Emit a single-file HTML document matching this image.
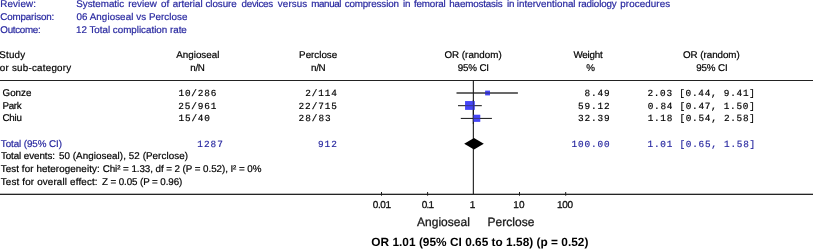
<!DOCTYPE html>
<html lang="en"><head><meta charset="utf-8"><title>Forest plot: Angioseal vs Perclose</title>
<style>
html,body{margin:0;padding:0;background:#fff;}
body{width:813px;height:249px;position:relative;overflow:hidden;font-family:"Liberation Sans",sans-serif;color:#000;text-rendering:geometricPrecision;}
.t{position:absolute;white-space:pre;font-size:9.8px;line-height:12px;height:12px;-webkit-text-stroke:0.2px currentColor;}
.b{color:#2828a0;}
.m{font-family:"Liberation Mono",monospace;font-size:9.4px;-webkit-text-stroke:0.18px currentColor;}
.x{font-size:10px;-webkit-text-stroke:0.3px currentColor;color:#111;}
.l{font-size:12px;line-height:14px;height:14px;-webkit-text-stroke:0.3px currentColor;color:#1a1a1a;}
.k{font-size:11.85px;line-height:14px;height:14px;font-weight:bold;-webkit-text-stroke:0;}
.hl{position:absolute;left:0;width:813px;height:1px;background:#222;}
svg{position:absolute;left:0;top:0;}
</style></head><body>
<div class="t b" style="left:0.16px;top:-1px;letter-spacing:0.182px;">Review:</div>
<div class="title grp">
<span class="t b" style="left:76.23px;top:-1px;letter-spacing:0.001px;">Systematic</span> 
<span class="t b" style="left:128.24px;top:-1px;letter-spacing:0.058px;">review</span> 
<span class="t b" style="left:161.11px;top:-1px;letter-spacing:0.000px;">of</span> 
<span class="t b" style="left:172.75px;top:-1px;letter-spacing:-0.016px;">arterial</span> 
<span class="t b" style="left:205.43px;top:-1px;letter-spacing:-0.035px;">closure</span> 
<span class="t b" style="left:241.55px;top:-1px;letter-spacing:-0.269px;">devices</span> 
<span class="t b" style="left:277.80px;top:-1px;letter-spacing:0.121px;">versus</span> 
<span class="t b" style="left:311.17px;top:-1px;letter-spacing:-0.348px;">manual</span> 
<span class="t b" style="left:344.66px;top:-1px;letter-spacing:-0.123px;">compression</span> 
<span class="t b" style="left:402.88px;top:-1px;letter-spacing:0.000px;">in</span> 
<span class="t b" style="left:413.92px;top:-1px;letter-spacing:-0.139px;">femoral</span> 
<span class="t b" style="left:449.34px;top:-1px;letter-spacing:-0.164px;">haemostasis</span> 
<span class="t b" style="left:506.92px;top:-1px;letter-spacing:0.000px;">in</span> 
<span class="t b" style="left:516.85px;top:-1px;letter-spacing:0.033px;">interventional</span> 
<span class="t b" style="left:578.15px;top:-1px;letter-spacing:-0.151px;">radiology</span> 
<span class="t b" style="left:620.25px;top:-1px;letter-spacing:0.093px;">procedures</span> 
</div>
<div class="t b" style="left:0.30px;top:12px;letter-spacing:-0.155px;">Comparison:</div>
<div class="t b" style="left:76.47px;top:12px;letter-spacing:0.069px;">06 Angioseal vs Perclose</div>
<div class="t b" style="left:0.33px;top:25px;letter-spacing:-0.305px;">Outcome:</div>
<div class="t b" style="left:76.02px;top:25px;letter-spacing:-0.005px;">12 Total complication rate</div>
<div class="t " style="left:-0.68px;top:50px;letter-spacing:0.162px;">Study</div>
<div class="t " style="left:-0.22px;top:63px;letter-spacing:0.240px;">or sub-category</div>
<div class="t " style="left:176.30px;top:50px;letter-spacing:0.000px;">Angioseal</div>
<div class="t " style="left:190.35px;top:63px;letter-spacing:-0.343px;">n/N</div>
<div class="t " style="left:299.10px;top:50px;letter-spacing:0.000px;">Perclose</div>
<div class="t " style="left:311.03px;top:63px;letter-spacing:-0.286px;">n/N</div>
<div class="t " style="left:444.39px;top:50px;letter-spacing:0.015px;">OR (random)</div>
<div class="t " style="left:457.87px;top:63px;letter-spacing:-0.193px;">95% CI</div>
<div class="t " style="left:573.50px;top:50px;letter-spacing:-0.200px;">Weight</div>
<div class="t " style="left:586.20px;top:63px;letter-spacing:0.000px;">%</div>
<div class="t " style="left:683.05px;top:50px;letter-spacing:-0.046px;">OR (random)</div>
<div class="t " style="left:696.14px;top:63px;letter-spacing:-0.120px;">95% CI</div>
<div class="t " style="left:2.59px;top:88px;letter-spacing:-0.022px;">Gonze</div>
<div class="t " style="left:2.44px;top:101px;letter-spacing:-0.326px;">Park</div>
<div class="t " style="left:2.51px;top:113px;letter-spacing:-0.203px;">Chiu</div>
<div class="t m" style="left:178.50px;top:88px;letter-spacing:0.802px;">10/286</div>
<div class="t m" style="left:178.25px;top:101px;letter-spacing:0.883px;">25/961</div>
<div class="t m" style="left:178.60px;top:113px;letter-spacing:0.768px;">15/40</div>
<div class="t m" style="left:305.26px;top:88px;letter-spacing:0.901px;">2/114</div>
<div class="t m" style="left:298.57px;top:101px;letter-spacing:0.909px;">22/715</div>
<div class="t m" style="left:298.52px;top:113px;letter-spacing:1.000px;">28/83</div>
<div class="t m" style="left:584.54px;top:88px;letter-spacing:0.853px;">8.49</div>
<div class="t m" style="left:578.00px;top:101px;letter-spacing:0.882px;">59.12</div>
<div class="t m" style="left:578.01px;top:113px;letter-spacing:0.892px;">32.39</div>
<div class="t m" style="left:647.38px;top:88px;letter-spacing:0.747px;">2.03 [0.44, 9.41]</div>
<div class="t m" style="left:647.71px;top:101px;letter-spacing:0.714px;">0.84 [0.47, 1.50]</div>
<div class="t m" style="left:647.64px;top:113px;letter-spacing:0.730px;">1.18 [0.54, 2.58]</div>
<div class="t b" style="left:0.86px;top:139px;letter-spacing:-0.077px;">Total (95% CI)</div>
<div class="t m b" style="left:197.37px;top:139px;letter-spacing:1.000px;">1287</div>
<div class="t m b" style="left:317.96px;top:139px;letter-spacing:1.000px;">912</div>
<div class="t m b" style="left:571.53px;top:139px;letter-spacing:0.889px;">100.00</div>
<div class="t m b" style="left:647.52px;top:139px;letter-spacing:0.752px;">1.01 [0.65, 1.58]</div>
<div class="f1 grp">
<span class="t " style="left:0.92px;top:151px;letter-spacing:-0.079px;">Total events:</span> 
<span class="t " style="left:58.90px;top:151px;letter-spacing:0.079px;">50 (Angioseal), 52 (Perclose)</span> 
</div>
<div class="f2 grp">
<span class="t " style="left:0.70px;top:164px;letter-spacing:0.094px;">Test for heterogeneity:</span> 
<span class="t " style="left:102.68px;top:164px;letter-spacing:-0.060px;">Chi² = 1.33, df = 2 (P = 0.52), I² = 0%</span> 
</div>
<div class="f3 grp">
<span class="t " style="left:0.79px;top:177px;letter-spacing:0.168px;">Test for overall effect:</span> 
<span class="t " style="left:101.90px;top:177px;letter-spacing:-0.094px;">Z = 0.05 (P = 0.96)</span> 
</div>
<div class="t x" style="left:372.77px;top:200px;letter-spacing:-0.380px;">0.01</div>
<div class="t x" style="left:421.76px;top:200px;letter-spacing:-0.800px;">0.1</div>
<div class="t x" style="left:469.71px;top:200px;letter-spacing:0.000px;">1</div>
<div class="t x" style="left:513.36px;top:200px;letter-spacing:0.000px;">10</div>
<div class="t x" style="left:556.90px;top:200px;letter-spacing:-0.204px;">100</div>
<div class="t l" style="left:416.99px;top:215px;letter-spacing:0.027px;">Angioseal</div>
<div class="t l" style="left:487.62px;top:215px;letter-spacing:0.002px;">Perclose</div>
<div class="t k" style="left:371.32px;top:235px;letter-spacing:0.022px;">OR 1.01 (95% CI 0.65 to 1.58) (p = 0.52)</div>
<div class="hl" style="top:80px;"></div>
<svg width="813" height="249" viewBox="0 0 813 249">
  <rect x="472.8" y="80" width="1.1" height="114" fill="#1a1a1a"/>
  <g fill="#1a1a1a">
    <rect x="0" y="193.7" width="813" height="1.25"/>
    <rect x="381" y="192" width="1" height="3.7"/>
    <rect x="427.1" y="192" width="1" height="3.7"/>
    <rect x="519" y="192" width="1" height="3.7"/>
    <rect x="565.2" y="192" width="1" height="3.7"/>
  </g>
  <g fill="#4646f8">
    <rect x="485.2" y="90.7" width="4.8" height="4.6"/>
    <rect x="465.1" y="101.1" width="9.6" height="8.7"/>
    <rect x="473.1" y="114.8" width="7.1" height="7"/>
  </g>
  <g fill="#2a2a2a">
    <rect x="456.5" y="92.35" width="61.4" height="1.3" fill="#1a1a1a"/>
    <rect x="458" y="105.1" width="23.8" height="1.1"/>
    <rect x="460.8" y="117.9" width="31.1" height="1.1"/>
  </g>
  <rect x="472.8" y="100" width="1.1" height="24" fill="#1a1a1a"/>
  <g fill="#4646f8" fill-opacity="0.5">
    <rect x="485.2" y="90.7" width="4.8" height="4.6"/>
    <rect x="465.1" y="101.1" width="9.6" height="8.7"/>
    <rect x="473.1" y="114.8" width="7.1" height="7"/>
  </g>
  <polygon points="464.2,143.7 474,138 483.8,143.7 474,149.5" fill="#000"/>
</svg>
</body></html>
